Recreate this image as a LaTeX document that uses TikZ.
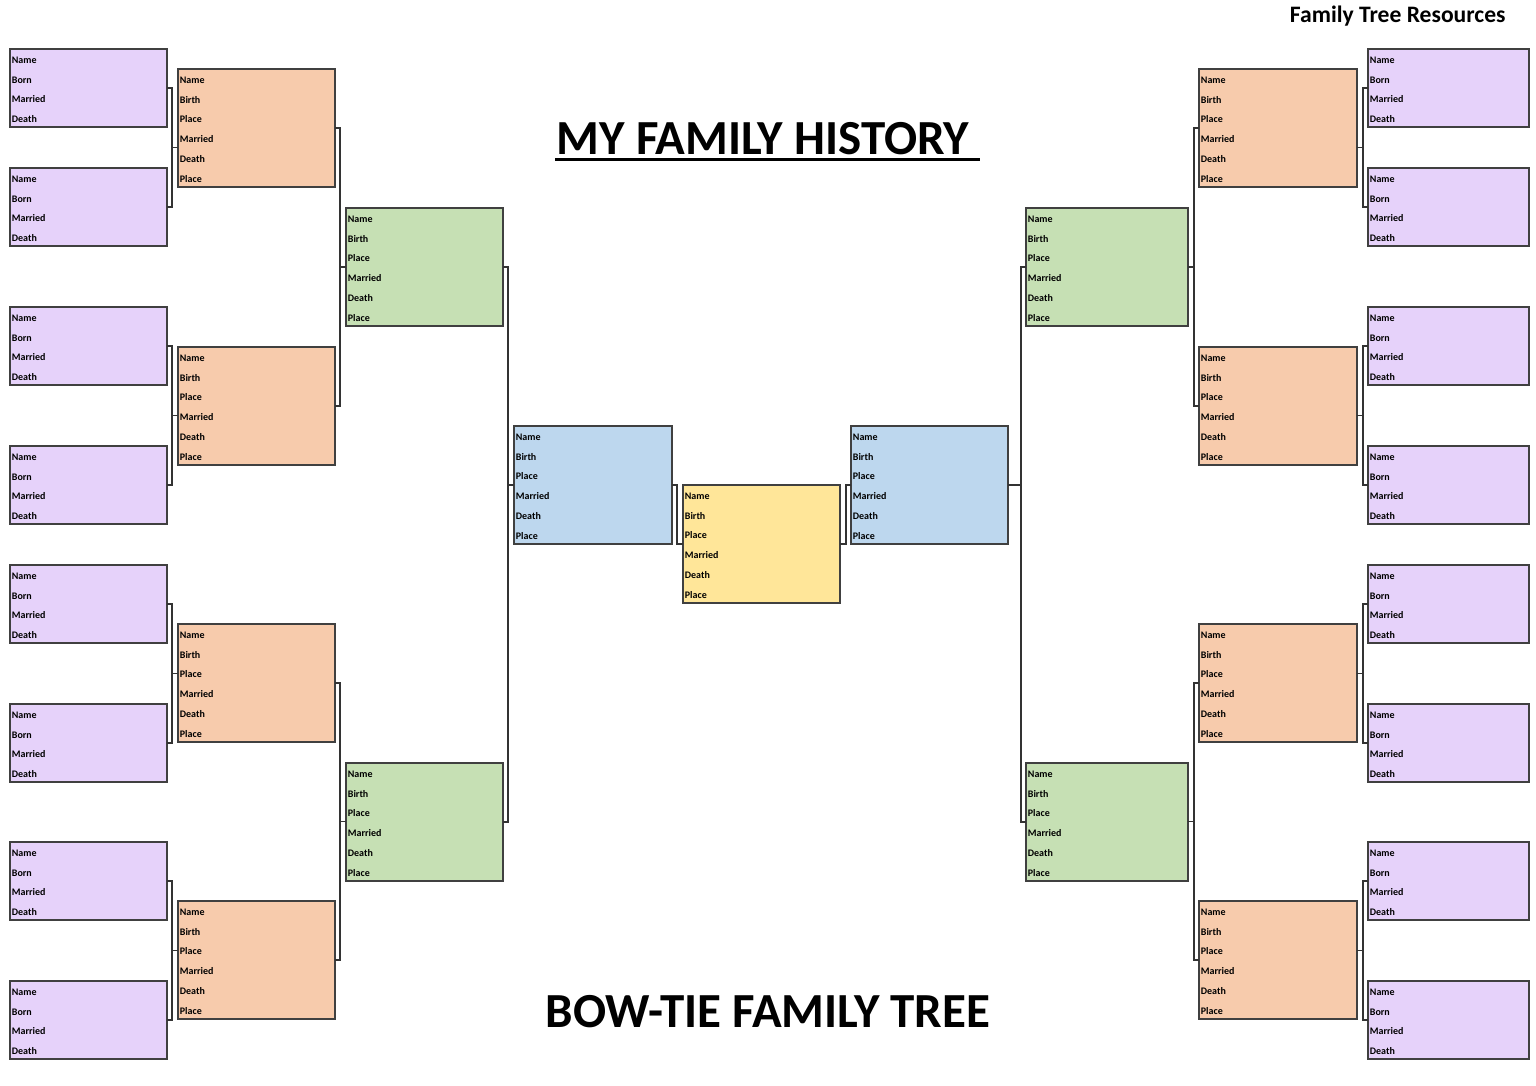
\documentclass[tikz,border=0pt]{standalone}
\usepackage{fontspec}
\setmainfont{Carlito}
\usetikzlibrary{calc}
\definecolor{lilac}{RGB}{230,210,250}
\definecolor{peach}{RGB}{247,203,172}
\definecolor{sage}{RGB}{198,224,180}
\definecolor{sky}{RGB}{189,215,238}
\definecolor{butter}{RGB}{255,230,153}
\definecolor{boxline}{RGB}{64,64,64}
\tikzset{
  box/.style = {draw=boxline, line width=0.75pt, anchor=north west, inner sep=0pt, outer sep=0pt, minimum height=59pt},
  pbox/.style = {box, fill=lilac, minimum height=39pt},
  lbl/.style = {anchor=mid west, inner sep=0pt, font=\bfseries\fontsize{5}{6}\selectfont},
  link/.style = {draw=black!80, line width=0.6pt},
  big/.style = {inner sep=0pt, font=\bfseries\fontsize{24.5}{29}\selectfont}
}
\begin{document}
\begin{tikzpicture}[x=0.5pt, y=-0.5pt]
    \useasboundingbox (0,0) rectangle (1536,1086);
    % grandparents
    \foreach \t [count=\i] in {48,167,306,445,564,703,841,980} {
        \node [pbox, minimum width=78.5pt] (lp\i) at (10,\t+1) {};
        \node [pbox, minimum width=80.5pt] (rp\i) at (1368,\t+1) {};
    }
    \foreach \t [count=\i] in {68,346,623,900} {
        \node [box, fill=peach, minimum width=78.5pt] (lo\i) at (178,\t+1) {};
        \node [box, fill=peach, minimum width=79pt] (ro\i) at (1199,\t+1) {};
    }
    \foreach \t [count=\i] in {207,762} {
        \node [box, fill=sage, minimum width=78.5pt] (lg\i) at (346,\t+1) {};
        \node [box, fill=sage, minimum width=81pt] (rg\i) at (1026,\t+1) {};
    }
    \node [box, fill=sky, minimum width=79pt] (lb) at (514,426) {};
    \node [box, fill=sky, minimum width=78.5pt] (rb) at (851,426) {};
    \node [box, fill=butter, minimum width=78.5pt] (yc) at (683,485) {};
    % field labels
    \foreach \b in {lp1,lp2,lp3,lp4,lp5,lp6,lp7,lp8,rp1,rp2,rp3,rp4,rp5,rp6,rp7,rp8} {
        \foreach \f [count=\j from 0] in {Name,Born,Married,Death}
            \node [lbl] (\b-\j) at ([shift={(1.5,9.5+19.8*\j)}]\b.north west) {\f};
    }
    \foreach \b in {lo1,lo2,lo3,lo4,ro1,ro2,ro3,ro4,lg1,lg2,rg1,rg2,lb,rb,yc} {
        \foreach \f [count=\j from 0] in {Name,Birth,Place,Married,Death,Place}
            \node [lbl] (\b-\j) at ([shift={(1.5,9.5+19.8*\j)}]\b.north west) {\f};
    }
    % brackets
    \foreach \k/\a/\b in {1/1/2,2/3/4,3/5/6,4/7/8} {
        \coordinate (jl\k) at ($(lp\a.east)!0.5!(lp\b.east)+(5,0)$);
        \draw [link] (lp\a.east) -| (jl\k) |- (lp\b.east);
        \draw [link] (jl\k) -- (jl\k -| lo\k.west);
        \coordinate (jr\k) at ($(rp\a.west)!0.5!(rp\b.west)+(-5,0)$);
        \draw [link] (rp\a.west) -| (jr\k) |- (rp\b.west);
        \draw [link] (jr\k) -- (jr\k -| ro\k.east);
    }
    \foreach \k/\a/\b in {1/1/2,2/3/4} {
        \coordinate (kl\k) at ($(lo\a.east)!0.5!(lo\b.east)+(5,0)$);
        \draw [link] (lo\a.east) -| (kl\k) |- (lo\b.east);
        \draw [link] (kl\k) -- (kl\k -| lg\k.west);
        \coordinate (kr\k) at ($(ro\a.west)!0.5!(ro\b.west)+(-5,0)$);
        \draw [link] (ro\a.west) -| (kr\k) |- (ro\b.west);
        \draw [link] (kr\k) -- (kr\k -| rg\k.east);
    }
    \coordinate (ml) at ([xshift=2.5pt]lg1.east);
    \draw [link] (lg1.east) -- (ml) |- (lg2.east);
    \draw [link] (ml |- lb.west) -- (lb.west);
    \coordinate (mr) at ([xshift=-2.5pt]rg1.west);
    \draw [link] (rg1.west) -- (mr) |- (rg2.west);
    \draw [link] (mr |- rb.east) -- (rb.east);
    \draw [link] (lb.east) -- ++(5,0) |- (yc.west);
    \draw [link] (rb.west) -- ++(-5,0) |- (yc.east);
    % titles
    \node [big, anchor=base] (ttl) at (763,155) {MY FAMILY HISTORY};
    \draw [line width=1.5pt] ([shift={(-1,4)}]ttl.base west) -- ([shift={(10,4)}]ttl.base east);
    \node [big, anchor=base] (sub) at (768,1027) {BOW-TIE FAMILY TREE};
    \node [anchor=base east, inner sep=0pt, font=\bfseries\fontsize{11.8}{14}\selectfont] (res) at (1506,23) {Family Tree Resources};
\end{tikzpicture}
\end{document}
